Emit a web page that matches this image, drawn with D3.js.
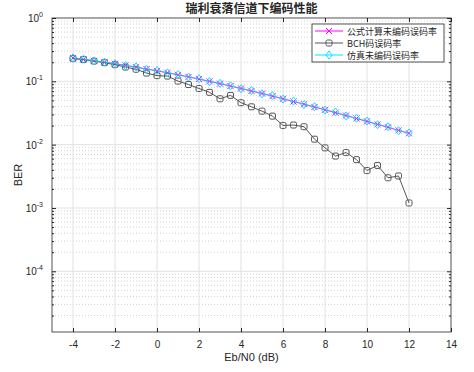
<!DOCTYPE html>
<html>
<head>
<meta charset="utf-8">
<script src="https://cdn.jsdelivr.net/npm/d3@7"></script>
<style>
  body { margin: 0; background: #fff; }
  text { font-family: "Liberation Sans", Arial, sans-serif; fill: #262626; }
  .cjk { font-family: "Noto Sans CJK SC", "Noto Sans", sans-serif; }
</style>
</head>
<body>
<svg id="chart" width="474" height="372"></svg>
<script>

// data

var ebn0 = [-4, -3.5, -3, -2.5, -2, -1.5, -1, -0.5, 0, 0.5, 1, 1.5, 2, 2.5, 3, 3.5, 4,
            4.5, 5, 5.5, 6, 6.5, 7, 7.5, 8, 8.5, 9, 9.5, 10, 10.5, 11, 11.5, 12];

var berTheory = [0.2332, 0.2222, 0.2111, 0.2000, 0.1890, 0.1781, 0.1673, 0.1567, 0.1464,
                 0.1365, 0.1267, 0.1174, 0.1085, 0.1000, 0.0919, 0.0843, 0.0771, 0.0704,
                 0.0642, 0.0584, 0.0530, 0.0480, 0.0435, 0.0393, 0.0355, 0.0320, 0.0288,
                 0.0259, 0.0233, 0.0209, 0.0188, 0.0168, 0.0151];

var berBch = [0.228, 0.220, 0.208, 0.197, 0.183, 0.168, 0.155, 0.135, 0.123, 0.121, 0.101,
              0.089, 0.077, 0.067, 0.053, 0.060, 0.046, 0.0396, 0.0338, 0.0282, 0.0201,
              0.0204, 0.0192, 0.0122, 0.0089, 0.0066, 0.0075, 0.0058, 0.0039, 0.0047,
              0.0030, 0.0032, 0.0012];

var berSim = [0.2350, 0.2240, 0.2100, 0.2010, 0.1905, 0.1770, 0.1690, 0.1555, 0.1480,
              0.1360, 0.1285, 0.1165, 0.1100, 0.0990, 0.0930, 0.0850, 0.0762, 0.0715,
              0.0635, 0.0595, 0.0525, 0.0488, 0.0430, 0.0398, 0.0352, 0.0328, 0.0284,
              0.0262, 0.0236, 0.0207, 0.0192, 0.0166, 0.0153];

var xTicks = [-4, -2, 0, 2, 4, 6, 8, 10, 12, 14];
var yExponents = [0, -1, -2, -3, -4];
var legendLabels = ["公式计算未编码误码率", "BCH码误码率", "仿真未编码误码率"];

// layout (avoid the name "top", it is window.top)

var svg = d3.select("#chart");
var pLeft = 52, pRight = 451, pTop = 18, pBottom = 332;

var x = d3.scaleLinear().domain([-5, 14]).range([pLeft, pRight]);
var y = d3.scaleLog().domain([1.1e-5, 1]).range([pBottom, pTop]);

// grid: minor dotted, major solid

var minors = [];
yExponents.concat([-5]).forEach(function (e) {
  for (var m = 2; m <= 9; m++) {
    var v = m * Math.pow(10, e);
    if (v > y.domain()[0] && v < 1) minors.push(v);
  }
});

svg.append("g").selectAll("line")
  .data(minors)
  .enter().append("line")
  .attr("x1", pLeft).attr("x2", pRight)
  .attr("y1", function (d) { return y(d); })
  .attr("y2", function (d) { return y(d); })
  .attr("stroke", "#c8c8c8")
  .attr("stroke-width", 0.8)
  .attr("stroke-dasharray", "1,2");

svg.append("g").selectAll("line")
  .data(xTicks.slice(0, -1))
  .enter().append("line")
  .attr("x1", function (d) { return x(d); })
  .attr("x2", function (d) { return x(d); })
  .attr("y1", pTop).attr("y2", pBottom)
  .attr("stroke", "#e2e2e2");

svg.append("g").selectAll("line")
  .data(yExponents.slice(1))
  .enter().append("line")
  .attr("x1", pLeft).attr("x2", pRight)
  .attr("y1", function (d) { return y(Math.pow(10, d)); })
  .attr("y2", function (d) { return y(Math.pow(10, d)); })
  .attr("stroke", "#e2e2e2");

// axes with inward ticks on all four sides

var axisStyle = function (g) {
  g.select(".domain").remove();
  g.selectAll("line").attr("stroke", "#262626");
};

svg.append("g")
  .attr("transform", "translate(0," + pBottom + ")")
  .call(d3.axisBottom(x).tickValues(xTicks).tickSize(-4).tickPadding(9)
    .tickFormat(function (d) { return String(d); }))
  .call(axisStyle)
  .selectAll("text").style("font-size", "10px").attr("fill", "#262626");

svg.append("g")
  .attr("transform", "translate(0," + pTop + ")")
  .call(d3.axisTop(x).tickValues(xTicks).tickSize(-4).tickFormat(""))
  .call(axisStyle);

var yMajor = yExponents.map(function (e) { return Math.pow(10, e); });

svg.append("g")
  .attr("transform", "translate(" + pLeft + ",0)")
  .call(d3.axisLeft(y).tickValues(yMajor).tickSize(-4).tickFormat(""))
  .call(axisStyle);

svg.append("g")
  .attr("transform", "translate(" + pLeft + ",0)")
  .call(d3.axisLeft(y).tickValues(minors).tickSize(-2).tickFormat(""))
  .call(axisStyle);

svg.append("g")
  .attr("transform", "translate(" + pRight + ",0)")
  .call(d3.axisRight(y).tickValues(yMajor).tickSize(-4).tickFormat(""))
  .call(axisStyle);

svg.append("g")
  .attr("transform", "translate(" + pRight + ",0)")
  .call(d3.axisRight(y).tickValues(minors).tickSize(-2).tickFormat(""))
  .call(axisStyle);

// y tick labels as 10 with superscript

var ylab = svg.append("g").selectAll("text")
  .data(yExponents)
  .enter().append("text")
  .attr("x", pLeft - 9)
  .attr("y", function (d) { return y(Math.pow(10, d)) + 4; })
  .attr("text-anchor", "end")
  .style("font-size", "10px");

ylab.append("tspan").text("10");
ylab.append("tspan")
  .attr("dy", -5)
  .style("font-size", "7px")
  .text(function (d) { return d; });

// box

svg.append("rect")
  .attr("x", pLeft).attr("y", pTop)
  .attr("width", pRight - pLeft).attr("height", pBottom - pTop)
  .attr("fill", "none")
  .attr("stroke", "#262626")
  .attr("stroke-width", 0.8);

// series

var line = function (vals) {
  return d3.line()
    .x(function (d, i) { return x(ebn0[i]); })
    .y(function (d) { return y(d); })(vals);
};

var series = [
  { vals: berTheory, color: "#ff00ff", marker: "x" },
  { vals: berBch, color: "#555555", marker: "s" },
  { vals: berSim, color: "#00e5ff", marker: "d" }
];

function drawMarker(g, kind, color, cx, cy) {
  if (kind == "x") {
    g.append("path")
      .attr("d", "M" + (cx - 3) + "," + (cy - 3) + "L" + (cx + 3) + "," + (cy + 3) +
                 "M" + (cx - 3) + "," + (cy + 3) + "L" + (cx + 3) + "," + (cy - 3))
      .attr("stroke", color).attr("fill", "none");
  } else if (kind == "s") {
    g.append("rect")
      .attr("x", cx - 3).attr("y", cy - 3)
      .attr("width", 6).attr("height", 6)
      .attr("rx", 1.5)
      .attr("stroke", color).attr("fill", "none");
  } else {
    g.append("path")
      .attr("d", "M" + cx + "," + (cy - 4) + "L" + (cx + 3.2) + "," + cy +
                 "L" + cx + "," + (cy + 4) + "L" + (cx - 3.2) + "," + cy + "Z")
      .attr("stroke", color).attr("fill", "none");
  }
}

series.forEach(function (s, k) {
  var g = svg.append("g");
  g.append("path")
    .attr("d", line(s.vals))
    .attr("fill", "none")
    .attr("stroke", s.color)
    .attr("stroke-width", 1)
    .attr("opacity", k == 2 ? 0.6 : 1);
  s.vals.forEach(function (v, i) {
    drawMarker(g, s.marker, s.color, x(ebn0[i]), y(v));
  });
});

// legend

var lg = svg.append("g");
lg.append("rect")
  .attr("x", 312).attr("y", 24)
  .attr("width", 132).attr("height", 38)
  .attr("fill", "#fff")
  .attr("stroke", "#262626")
  .attr("stroke-width", 0.8);

series.forEach(function (s, i) {
  var ly = 31 + i * 12;
  lg.append("line")
    .attr("x1", 315).attr("x2", 343)
    .attr("y1", ly).attr("y2", ly)
    .attr("stroke", s.color);
  drawMarker(lg, s.marker, s.color, 329, ly);
  lg.append("text")
    .attr("class", "cjk")
    .attr("x", 347).attr("y", ly + 3.5)
    .style("font-size", "9px")
    .text(legendLabels[i]);
});

// titles

svg.append("text")
  .attr("class", "cjk")
  .attr("x", (pLeft + pRight) / 2).attr("y", 13)
  .attr("text-anchor", "middle")
  .style("font-size", "12px")
  .style("font-weight", "bold")
  .text("瑞利衰落信道下编码性能");

svg.append("text")
  .attr("x", (pLeft + pRight) / 2).attr("y", 361)
  .attr("text-anchor", "middle")
  .style("font-size", "11px")
  .text("Eb/N0 (dB)");

svg.append("text")
  .attr("transform", "translate(22," + (pTop + pBottom) / 2 + ") rotate(-90)")
  .attr("text-anchor", "middle")
  .style("font-size", "11px")
  .text("BER");

</script>
</body>
</html>
